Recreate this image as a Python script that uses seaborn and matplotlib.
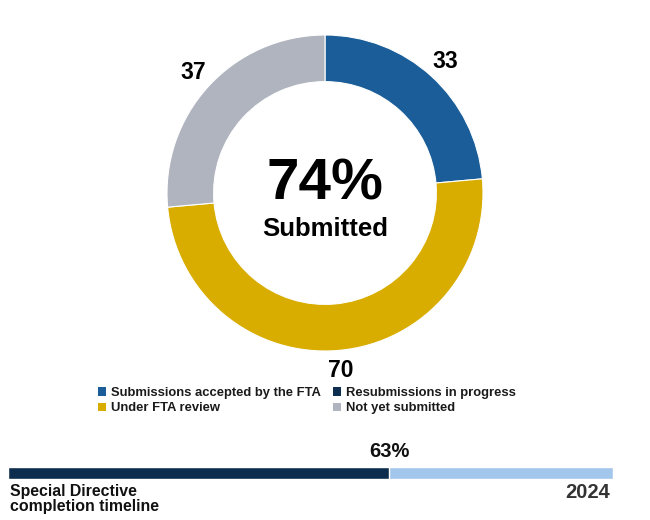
import matplotlib
matplotlib.use('Agg')
import matplotlib.pyplot as plt
from matplotlib.patches import Patch
import pandas as pd
import seaborn as sns

# donut data
categories = ['Submissions accepted by the FTA', 'Resubmissions in progress',
              'Under FTA review', 'Not yet submitted']
counts = [33, 0, 70, 37]
colors = ['#1a5d98', '#0d2e4e', '#d8ad00', '#b0b4bf']
center_pct = 74
center_label = 'Submitted'

# timeline data
timeline_pct = 63
timeline_year = '2024'
timeline_label = 'Special Directive\ncompletion timeline'

W, H = 650, 520
sns.set_theme(style='white')
plt.rcParams['font.family'] = ['Liberation Sans', 'DejaVu Sans']
plt.rcParams['font.weight'] = 'bold'

fig = plt.figure(figsize=(W / 100, H / 100), dpi=100)


def px_axes(x0, y0, x1, y1):
    # pixel box (top-left origin) -> figure axes
    return fig.add_axes([x0 / W, 1 - y1 / H, (x1 - x0) / W, (y1 - y0) / H])


# --- donut ---
cx, cy, r = 325, 193, 158
ax = px_axes(cx - r, cy - r, cx + r, cy + r)
shown = [(c, v, col) for c, v, col in zip(categories, counts, colors) if v > 0]
total = sum(counts)
wedges, _, autotexts = ax.pie(
    [v for _, v, _ in shown], colors=[col for _, _, col in shown],
    startangle=90, counterclock=False, radius=1,
    wedgeprops=dict(width=0.295, edgecolor='white', linewidth=0.8),
    autopct=lambda p: f'{round(p * total / 100)}', pctdistance=1.13,
    textprops=dict(fontsize=16.5, fontweight='bold', color='black'))
for t in autotexts:
    t.set_clip_on(False)
ax.set_xlim(-1, 1)
ax.set_ylim(-1, 1)
ax.text(0, -0.04, f'{center_pct}%', ha='center', va='baseline',
        fontsize=42, fontweight='bold', color='black')
ax.text(0, -0.27, center_label, ha='center', va='baseline',
        fontsize=18.5, fontweight='bold', color='black')

# legend (column-wise fill)
order = [0, 2, 1, 3]
handles = [Patch(facecolor=colors[i], edgecolor='none', label=categories[i]) for i in order]
leg = fig.legend(handles=handles, ncol=2, frameon=False,
                 loc='upper left', bbox_to_anchor=(98 / W, 1 - 387 / H),
                 fontsize=9.4, handlelength=0.6, handleheight=0.6,
                 handletextpad=0.4, columnspacing=0.95, labelspacing=0.25,
                 borderpad=0, borderaxespad=0)
for t in leg.get_texts():
    t.set_color('#1a1a1a')
    t.set_fontweight('bold')

# --- timeline bar ---
tax = px_axes(8, 467, 613, 479)
tl = pd.DataFrame({'row': ['timeline'], 'full': [100], 'done': [timeline_pct]})
sns.barplot(data=tl, x='full', y='row', orient='h', color='#a3c7ec',
            width=1, saturation=1, ax=tax)
sns.barplot(data=tl, x='done', y='row', orient='h', color='#0c2d4d',
            width=1, saturation=1, ax=tax)
tax.set_xlim(0, 100)
tax.set_ylim(0.5, -0.5)
tax.axis('off')
tax.annotate(f'{timeline_pct}%', xy=(timeline_pct, -0.5), xytext=(0, 7.5),
             textcoords='offset points', ha='center', va='baseline',
             fontsize=14.5, fontweight='bold', color='#111111', annotation_clip=False)

fig.text(610 / W, 1 - 498 / H, timeline_year, ha='right', va='baseline',
         fontsize=14.5, fontweight='bold', color='#333333')
# multiline baseline anchors the last line
fig.text(10 / W, 1 - 511 / H, timeline_label, ha='left', va='baseline',
         fontsize=11.4, fontweight='bold', color='#111111', linespacing=1.02)

fig.savefig('out.png', dpi=100)
